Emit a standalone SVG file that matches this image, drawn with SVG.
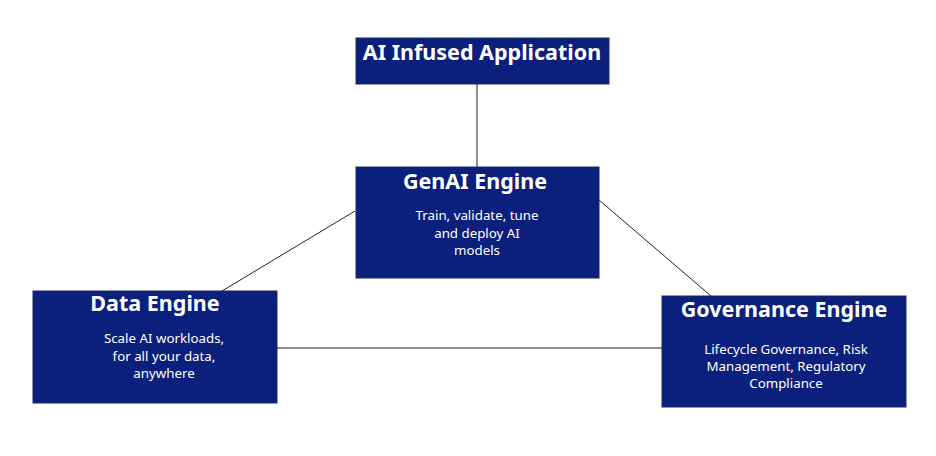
<svg xmlns="http://www.w3.org/2000/svg" width="936" height="456" viewBox="0 0 936 456">
<style>
.box{fill:#0b1f7c;stroke:#1a2a60;stroke-width:1}
.t{font-family:"Noto Sans","Open Sans",sans-serif;font-weight:bold;fill:#fff;text-anchor:middle;font-size:21.5px}
.b{font-family:"Noto Sans","Open Sans",sans-serif;fill:#fff;text-anchor:middle;font-size:13.3px}
.c{stroke:#222;stroke-width:1;fill:none}
</style>
<rect width="936" height="456" fill="#fff"/>
<g id="connectors">
<line class="c" x1="477" y1="84" x2="477" y2="167"/>
<line class="c" x1="355" y1="211" x2="222" y2="291"/>
<line class="c" x1="599" y1="200" x2="711" y2="296"/>
<line class="c" x1="277" y1="348" x2="662" y2="348"/>
</g>
<g id="app">
<rect class="box" x="356" y="38" width="253" height="46"/>
<text class="t" x="482" y="60">AI Infused Application</text>
</g>
<g id="genai">
<rect class="box" x="356" y="167" width="243" height="111"/>
<text class="t" x="475" y="189">GenAI Engine</text>
<text class="b" x="477" y="220">Train, validate, tune</text>
<text class="b" x="477" y="238">and deploy AI</text>
<text class="b" x="477" y="255">models</text>
</g>
<g id="data">
<rect class="box" x="33" y="291" width="244" height="112"/>
<text class="t" x="155" y="311">Data Engine</text>
<text class="b" x="164" y="343">Scale AI workloads,</text>
<text class="b" x="164" y="361">for all your data,</text>
<text class="b" x="164" y="378">anywhere</text>
</g>
<g id="gov">
<rect class="box" x="662" y="296" width="244" height="111"/>
<text class="t" x="784" y="317">Governance Engine</text>
<text class="b" x="786" y="354">Lifecycle Governance, Risk</text>
<text class="b" x="786" y="371">Management, Regulatory</text>
<text class="b" x="786" y="388">Compliance</text>
</g>
</svg>
